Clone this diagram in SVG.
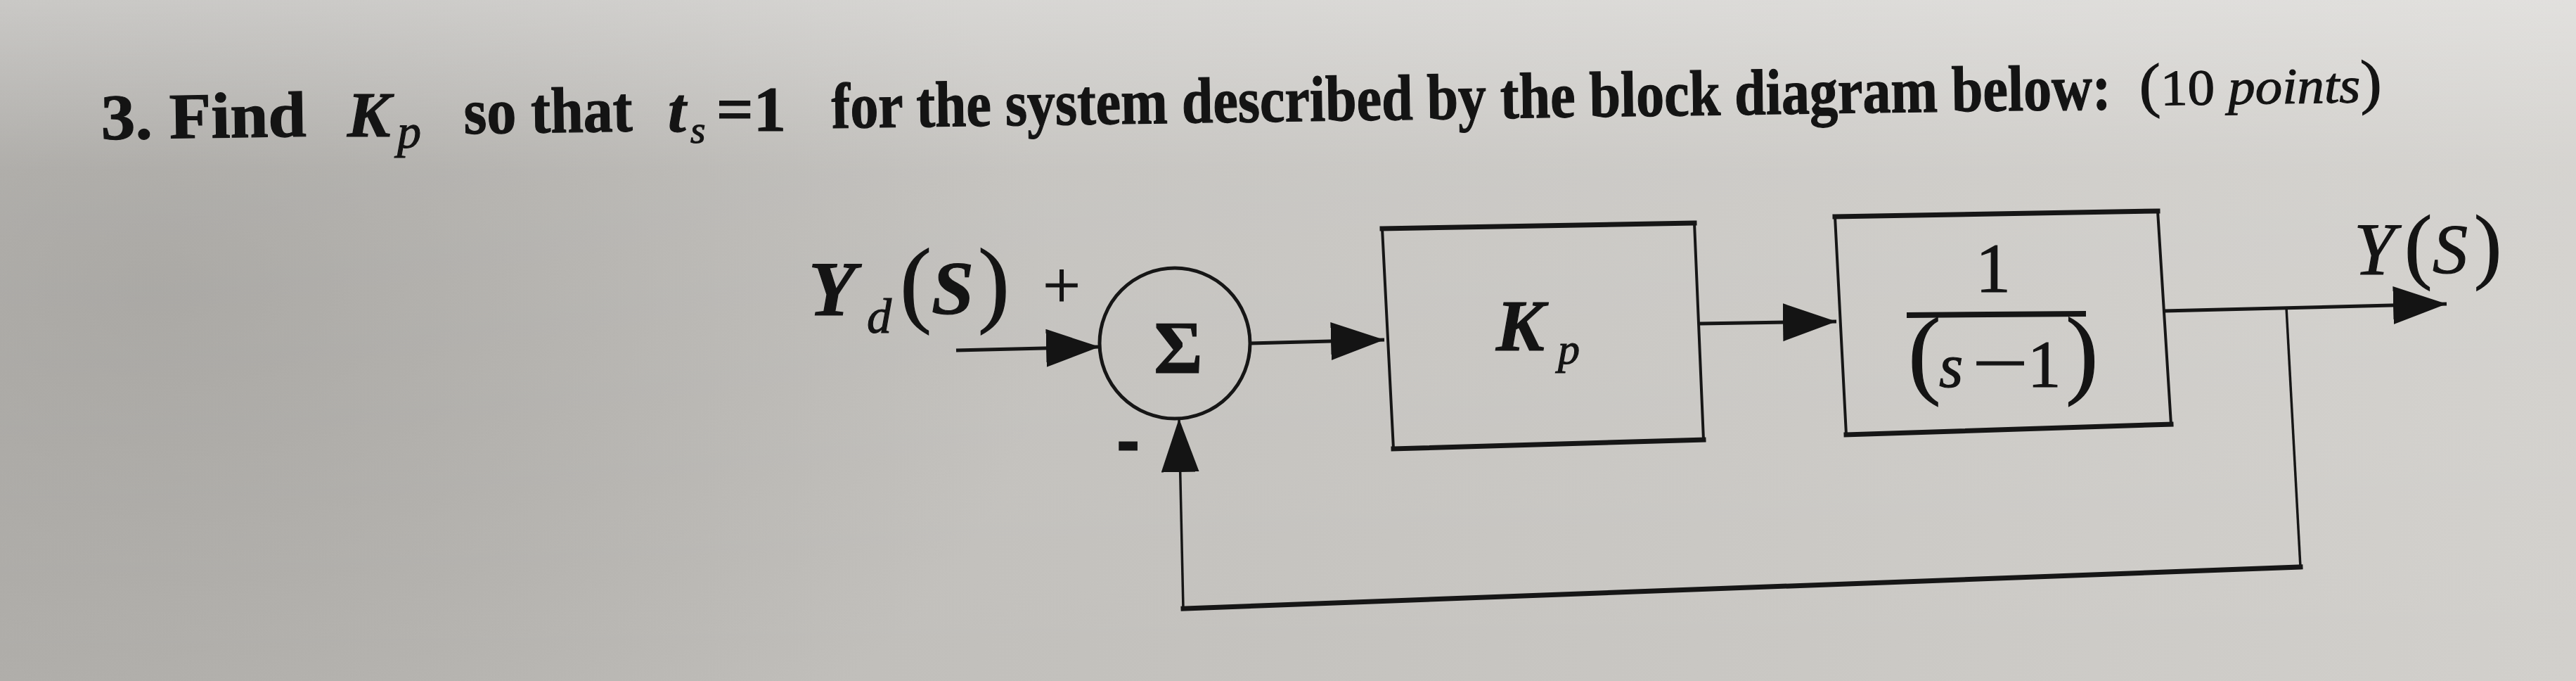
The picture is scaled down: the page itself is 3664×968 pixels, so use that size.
<svg xmlns="http://www.w3.org/2000/svg" width="3664" height="968" viewBox="0 0 3664 968">
<defs>
<linearGradient id="bgx" x1="0" y1="0" x2="1" y2="0">
<stop offset="0" stop-color="#b6b4b0"/>
<stop offset="0.3" stop-color="#c0beba"/>
<stop offset="0.7" stop-color="#cac8c4"/>
<stop offset="1" stop-color="#d2d0cc"/>
</linearGradient>
<linearGradient id="bgy" x1="0" y1="0" x2="0" y2="1">
<stop offset="0" stop-color="#ffffff" stop-opacity="0.35"/>
<stop offset="0.25" stop-color="#ffffff" stop-opacity="0.08"/>
<stop offset="1" stop-color="#ffffff" stop-opacity="0"/>
</linearGradient>
<radialGradient id="bgd" cx="0.06" cy="0.42" r="0.35" gradientTransform="translate(0.06 0.42) scale(1 2.6) translate(-0.06 -0.42)">
<stop offset="0" stop-color="#8f8d89" stop-opacity="0.45"/>
<stop offset="1" stop-color="#8f8d89" stop-opacity="0"/>
</radialGradient>
<marker id="ah" markerUnits="userSpaceOnUse" markerWidth="78" markerHeight="56" refX="76" refY="27" orient="auto" viewBox="0 0 78 56">
<path d="M0,0 L76,27 L0,54 z" fill="#141414"/>
</marker>
<style>
.t{font-family:"Liberation Serif","Times New Roman",serif;fill:#141414;stroke:#141414;stroke-width:1.2}
.b{font-weight:bold}
.i{font-style:italic}
.box{fill:none;stroke:#161616;stroke-width:4;stroke-linejoin:miter}
.edge{fill:none;stroke:#161616;stroke-width:7;stroke-linecap:square}
.wire{fill:none;stroke:#161616;stroke-width:5}
.thin{fill:none;stroke:#161616;stroke-width:3.5}
</style>
</defs>
<rect width="3664" height="968" fill="url(#bgx)"/>
<rect width="3664" height="968" fill="url(#bgd)"/>
<rect width="3664" height="968" fill="url(#bgy)"/>

<g id="title">
<text class="t b" x="144" y="198" font-size="92" textLength="292" lengthAdjust="spacingAndGlyphs" transform="rotate(-0.85 144 198)">3. Find</text>
<text class="t b i" x="494" y="194" font-size="92">K</text>
<text class="t i" x="565" y="210" font-size="68">p</text>
<text class="t b" x="660" y="190" font-size="92" textLength="240" lengthAdjust="spacingAndGlyphs" transform="rotate(-0.85 660 190)">so that</text>
<text class="t b i" x="950" y="187" font-size="92">t</text>
<text class="t i" x="982" y="203" font-size="55">s</text>
<text class="t b" x="1019" y="186" font-size="92" textLength="99" lengthAdjust="spacingAndGlyphs">=1</text>
<text class="t b" x="1183" y="182" font-size="92" textLength="1820" lengthAdjust="spacingAndGlyphs" transform="rotate(-0.85 1183 182)">for the system described by the block diagram below:</text>
<text class="t" x="3043" y="150" font-size="72" textLength="345" lengthAdjust="spacingAndGlyphs" transform="rotate(-0.85 3043 150)"><tspan font-size="86">(</tspan>10 <tspan class="i">points</tspan><tspan font-size="86">)</tspan></text>
</g>

<g id="sum">
<circle cx="1671" cy="488" r="107" fill="none" stroke="#161616" stroke-width="5"/>
<text class="t b" x="1676" y="530" font-size="106" text-anchor="middle">Σ</text>
</g>

<g id="kp-block">
<path class="box" d="M1966,325 L2410,317 L2423,625 L1982,638 Z"/>
<path class="edge" d="M1966,325 L2410,317 M1982,638 L2423,625"/>
<text class="t b i" x="2128" y="498" font-size="103">K</text>
<text class="t i" x="2216" y="517" font-size="62">p</text>
</g>

<g id="plant-block">
<path class="box" d="M2610,308 L3069,300 L3088,603 L2626,618 Z"/>
<path class="edge" d="M2610,308 L3069,300 M2626,618 L3088,603"/>
<text class="t" x="2835" y="415" font-size="100" text-anchor="middle">1</text>
<path d="M2712,448 L2967,446" stroke="#161616" stroke-width="8" fill="none"/>
<text class="t" x="2714" y="548" font-size="140">(</text>
<text class="t i" x="2758" y="550" font-size="88">s</text>
<text class="t" x="2805" y="548" font-size="95" textLength="80" lengthAdjust="spacingAndGlyphs">−</text>
<text class="t" x="2884" y="550" font-size="95">1</text>
<text class="t" x="2938" y="548" font-size="140">)</text>
</g>

<g id="input-label">
<text class="t b i" x="1150" y="448" font-size="110">Y</text>
<text class="t i" x="1233" y="473" font-size="70">d</text>
<text class="t" x="1280" y="447" font-size="135">(</text>
<text class="t b i" x="1325" y="446" font-size="108">S</text>
<text class="t" x="1391" y="447" font-size="135">)</text>
<text class="t" x="1510" y="437" font-size="95" text-anchor="middle">+</text>
<text class="t b" x="1588" y="660" font-size="100" style="font-family:'Liberation Sans',Arial,sans-serif">-</text>
</g>

<g id="output-label">
<text class="t i" x="3348" y="390" font-size="105">Y</text>
<text class="t" x="3420" y="388" font-size="118">(</text>
<text class="t i" x="3460" y="387" font-size="100">S</text>
<text class="t" x="3519" y="388" font-size="118">)</text>
</g>

<g id="connectors">
<path class="wire" d="M1360,498 L1564,493" marker-end="url(#ah)"/>
<path class="wire" d="M1778,488 L1969,483" marker-end="url(#ah)"/>
<path class="wire" d="M2418,460 L2612,457" marker-end="url(#ah)"/>
<path class="wire" d="M3078,442 L3480,432" marker-end="url(#ah)"/>
<path class="thin" d="M3252,437 L3272,806"/>
<path class="edge" d="M3272,806 L1683,865"/>
<path class="thin" d="M1683,865 L1677,595" marker-end="url(#ah)"/>
</g>
</svg>
